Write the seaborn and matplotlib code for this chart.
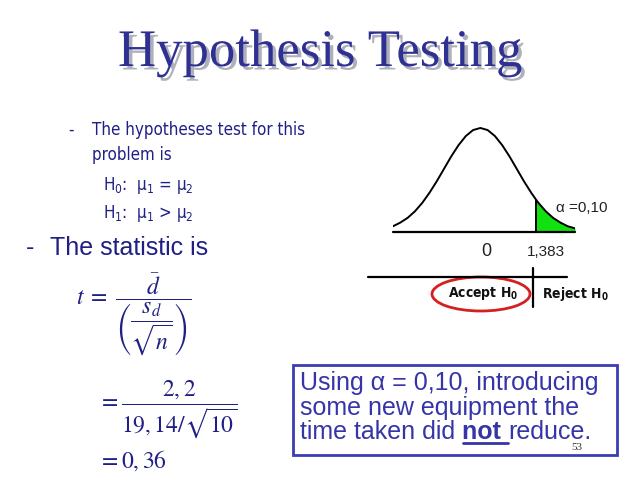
import numpy as np
import matplotlib
matplotlib.use("Agg")
import matplotlib.pyplot as plt
import matplotlib.patheffects as pe
import seaborn as sns
from matplotlib import font_manager
from matplotlib.font_manager import FontProperties
from matplotlib.patches import Ellipse, Rectangle
from matplotlib.lines import Line2D

# curve (z position, height)
z_vals = [-2.4, -2.2, -2.0, -1.8, -1.6, -1.4, -1.2, -1.0, -0.8, -0.6, -0.4, -0.2, 0.0,
          0.2, 0.4, 0.6, 0.8, 1.0, 1.2, 1.4, 1.53, 1.6, 1.8, 2.0, 2.2, 2.4, 2.6]
heights = [0.022, 0.036, 0.054, 0.079, 0.111, 0.150, 0.194, 0.242, 0.290, 0.333, 0.368, 0.391, 0.399,
           0.391, 0.368, 0.333, 0.290, 0.242, 0.194, 0.150, 0.124, 0.111, 0.079, 0.054, 0.036, 0.022, 0.014]
crit_pos = 1.53
crit_label = "1,383"
alpha_label = "α =0,10"
center_label = "0"

title = "Hypothesis Testing"
bullet_lines = ["The hypotheses test for this", "problem is"]
hyp_lines = [r"H$_0$:  μ$_1$ = μ$_2$", r"H$_1$:  μ$_1$ > μ$_2$"]
stat_line = "The statistic is"
formula1 = r"$t\;=\;\dfrac{\bar{d}}{\left(\dfrac{s_d}{\sqrt{n}}\right)}$"
formula2 = r"$=\dfrac{2,2}{19,14/\sqrt{10}}$"
formula3 = r"$=0,36$"
box_lines = ["Using α = 0,10, introducing", "some new equipment the"]
box_last = ["time taken did ", "not ", "reduce."]
page_no = "53"

sns.set_style("white")


def pick_narrow():
    # look for a condensed sans face, the slide uses Arial Narrow
    tries = [("Liberation Sans Narrow", "normal"), ("Liberation Sans", "condensed"),
             ("DejaVu Sans Condensed", "normal"), ("DejaVu Sans", "condensed")]
    for fam, stretch in tries:
        try:
            path = font_manager.findfont(FontProperties(family=fam, stretch=stretch),
                                         fallback_to_default=False)
        except Exception:
            continue
        low = path.lower()
        if "narrow" in low:
            return fam, stretch, 15, 12
        if "condensed" in low:
            return fam, stretch, 12.2, 10
    return "Liberation Sans", "normal", 12.5, 11


narrow_fam, narrow_stretch, narrow_size, lab_size = pick_narrow()

plt.rcParams['font.family'] = ['Liberation Sans', 'DejaVu Sans']
plt.rcParams['mathtext.fontset'] = 'custom'
plt.rcParams['mathtext.rm'] = f"{narrow_fam}:stretch={narrow_stretch}"
plt.rcParams['mathtext.it'] = f"{narrow_fam}:italic:stretch={narrow_stretch}"
plt.rcParams['mathtext.bf'] = f"{narrow_fam}:bold:stretch={narrow_stretch}"

navy = '#1f1f86'
blue = '#3535a8'
nkw = dict(family=narrow_fam, fontstretch=narrow_stretch)

fig = plt.figure(figsize=(6.38, 4.79), dpi=100)
ov = fig.add_axes([0, 0, 1, 1])
ov.set_xlim(0, 638)
ov.set_ylim(479, 0)
ov.axis('off')
ov.patch.set_visible(False)

# title with grey shadow
ov.text(320, 53, title, family='Liberation Serif', fontsize=38, color='#2e3192',
        ha='center', va='center',
        path_effects=[pe.SimplePatchShadow(offset=(2.5, -2.5), shadow_rgbFace='#b0b0bc', alpha=1),
                      pe.Normal()])

# bullets
ov.text(68, 130, "-", fontsize=narrow_size, color=navy, va='center', **nkw)
ov.text(92, 130, bullet_lines[0], fontsize=narrow_size, color=navy, va='center', **nkw)
ov.text(92, 155, bullet_lines[1], fontsize=narrow_size, color=navy, va='center', **nkw)
ov.text(103, 185, hyp_lines[0], fontsize=narrow_size, color=navy, va='center', **nkw)
ov.text(103, 213, hyp_lines[1], fontsize=narrow_size, color=navy, va='center', **nkw)
ov.text(26, 248, "-", fontsize=18, color=navy, va='center')
ov.text(50, 248, stat_line, fontsize=18, color=navy, va='center')

# formulas
ov.text(76, 304, formula1, fontsize=17, color=navy, va='baseline', math_fontfamily='stix')
ov.text(98, 409, formula2, fontsize=17, color=navy, va='baseline', math_fontfamily='stix')
ov.text(98, 468, formula3, fontsize=17, color=navy, va='baseline', math_fontfamily='stix')

# conclusion box
ov.add_patch(Rectangle((293, 365), 324, 90, fill=False, edgecolor='#3c3cb4', lw=2))
ov.text(300, 383, box_lines[0], fontsize=18, color=blue, va='center')
ov.text(300, 408, box_lines[1], fontsize=18, color=blue, va='center')
t1 = ov.text(300, 432, box_last[0], fontsize=18, color=blue, va='center')
t2 = ov.annotate(box_last[1], xy=(1, 0), xycoords=t1, va='bottom', fontsize=18,
                 fontweight='bold', color=blue)
t3 = ov.annotate(box_last[2], xy=(1, 0), xycoords=t2, va='bottom', fontsize=18, color=blue)
ov.text(571, 448, page_no, family='Liberation Serif', fontsize=8, color='#333333', va='center')

# normal curve
z = np.array(z_vals)
h = np.array(heights)
ax = fig.add_axes([393 / 638, (479 - 232) / 479, (575 - 393) / 638, 109.5 / 479])
ax.patch.set_visible(False)
sns.lineplot(x=z, y=h, ax=ax, color='black', lw=1.4)
mask = z >= crit_pos
ax.fill_between(z[mask], 0, h[mask], color='#11e011', lw=0)
ax.vlines(crit_pos, 0, h[z == crit_pos][0], color='black', lw=1.4)
ax.axhline(0, color='black', lw=1.6, clip_on=False)
ax.set_xlim(z.min(), z.max())
ax.set_ylim(0, 0.42)
ax.axis('off')

ov.text(486, 252, center_label, fontsize=13, color='#222222', ha='center', va='center')
ov.text(546, 252, crit_label, fontsize=11, color='#222222', ha='center', va='center')
ov.text(582, 208, alpha_label, fontsize=11, color='#222222', ha='center', va='center')

# accept / reject bar
ov.add_line(Line2D([368, 567], [277, 277], color='black', lw=1.6))
ov.add_line(Line2D([533, 533], [268, 307], color='black', lw=1.6))
ov.text(483, 294, r"Accept H$_\mathbf{0}$", fontsize=lab_size, fontweight='bold',
        color='#111111', ha='center', va='center', **nkw)
ov.text(575, 294, r"Reject H$_\mathbf{0}$", fontsize=lab_size, fontweight='bold',
        color='#111111', ha='center', va='center', **nkw)
ov.add_patch(Ellipse((481, 294), 98, 34, fill=False, edgecolor='#d42020', lw=2))

# underline under "not"
fig.canvas.draw()
bb = t2.get_window_extent()
inv = ov.transData.inverted()
(x0, _), (x1, _) = inv.transform([(bb.x0, bb.y0), (bb.x1, bb.y0)])
ov.add_line(Line2D([x0 + 1, x1], [443, 443], color=blue, lw=2))

fig.savefig("out.png", dpi=100)
